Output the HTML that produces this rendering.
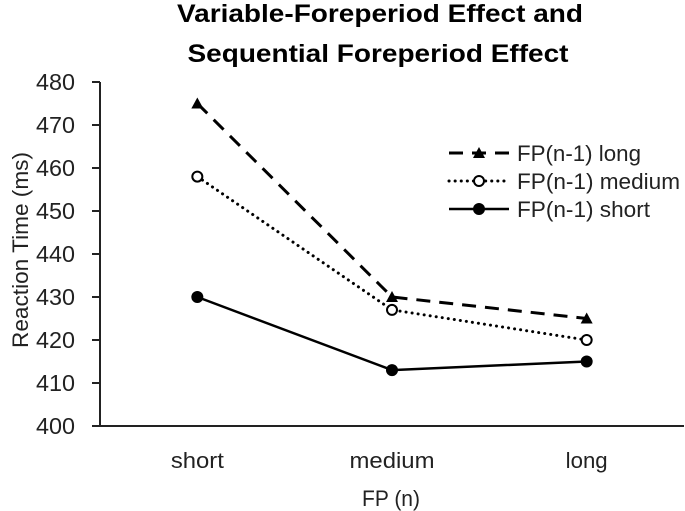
<!DOCTYPE html>
<html><head><meta charset="utf-8"><style>
html,body{margin:0;padding:0;background:#fff}
svg{display:block;font-family:"Liberation Sans",sans-serif}
</style></head><body>
<svg width="685" height="511" viewBox="0 0 685 511" id="chart">
<text x="380" y="22" text-anchor="middle" font-size="25" font-weight="bold" textLength="406" lengthAdjust="spacingAndGlyphs">Variable-Foreperiod Effect and</text>
<text x="378" y="62" text-anchor="middle" font-size="25" font-weight="bold" textLength="381" lengthAdjust="spacingAndGlyphs">Sequential Foreperiod Effect</text>
<g id="axes"></g>
<g id="series"></g>
<text x="391" y="506" text-anchor="middle" font-size="22" fill="#222" textLength="58" lengthAdjust="spacingAndGlyphs">FP (n)</text>
<text transform="translate(28,250) rotate(-90)" text-anchor="middle" font-size="22" fill="#222" textLength="196" lengthAdjust="spacingAndGlyphs">Reaction Time (ms)</text>
<g id="legend"></g>
</svg>
<script>
const categories = ["short","medium","long"];
const yTicks = [400,410,420,430,440,450,460,470,480];
const seriesNames = ["FP(n-1) long","FP(n-1) medium","FP(n-1) short"];
const longValues = [475,430,425];
const mediumValues = [458,427,420];
const shortValues = [430,413,415];

const NS="http://www.w3.org/2000/svg";
const X0=100,X1=684,Y0=426,Y1=82,YMIN=400,YMAX=480;
const band=(X1-X0)/categories.length;
const xs=i=>X0+band*(i+0.5);
const ys=v=>Y0-(v-YMIN)/(YMAX-YMIN)*(Y0-Y1);
function mk(tag,attrs,parent){const e=document.createElementNS(NS,tag);for(const k in attrs)e.setAttribute(k,attrs[k]);parent.appendChild(e);return e;}
const axes=document.getElementById('axes');
let l=mk('line',{x1:X0,y1:Y1,x2:X0,y2:Y0+1,stroke:'#222','stroke-width':2},axes);


l=mk('line',{x1:X0-8,y1:Y0,x2:X1,y2:Y0,stroke:'#222','stroke-width':2},axes);


yTicks.forEach(v=>{
  const t=mk('line',{x1:X0-8,y1:ys(v),x2:X0,y2:ys(v),stroke:'#222','stroke-width':2},axes);
  
  
  const tx=mk('text',{x:75,y:ys(v)+8,'text-anchor':'end','font-size':23,fill:'#222',textLength:39,lengthAdjust:'spacingAndGlyphs'},axes);
  tx.textContent=v;
  
  
});
const catW={short:53,medium:85,long:42};
categories.forEach((c,i)=>{
  const tx=mk('text',{x:xs(i),y:468,'text-anchor':'middle','font-size':22,fill:'#222',textLength:catW[c]||60,lengthAdjust:'spacingAndGlyphs'},axes);
  tx.textContent=c;
  
  
});
const styles=[
 {dash:'14 9',w:3,cap:'butt',marker:'tri'},
 {dash:'0.1 6',w:3,cap:'round',marker:'open'},
 {dash:'',w:2.5,cap:'butt',marker:'dot'}];
const allVals=[longValues,mediumValues,shortValues];
const sg=document.getElementById('series');
function marker(type,x,y,parent){
  let m;
  if(type==='tri') m=mk('polygon',{points:`${x},${y-6} ${x-6},${y+5} ${x+6},${y+5}`,fill:'#000'},parent);
  else if(type==='open') m=mk('circle',{cx:x,cy:y,r:5,fill:'#fff',stroke:'#000','stroke-width':2},parent);
  else m=mk('circle',{cx:x,cy:y,r:6,fill:'#000'},parent);
  return m;
}
allVals.forEach((vals,s)=>{
  const st=styles[s];
  const p=mk('polyline',{points:vals.map((v,i)=>xs(i)+','+ys(v)).join(' '),fill:'none',stroke:'#000','stroke-width':st.w,'stroke-dasharray':st.dash,'stroke-linecap':st.cap},sg);
  
  
  vals.forEach((v,i)=>{
    const m=marker(st.marker,xs(i),ys(v),sg);
    
    
  });
});
const lg=document.getElementById('legend');
const legW=[124,163,133];
seriesNames.forEach((n,s)=>{
  const st=styles[s];const y=153+28*s;
  const ln=mk('line',{x1:449,y1:y,x2:509,y2:y,stroke:'#000','stroke-width':st.w,'stroke-dasharray':st.dash,'stroke-linecap':st.cap},lg);
  
  
  const m=marker(st.marker,479,y,lg);
  
  
  const t=mk('text',{x:517,y:y+8,'font-size':22,fill:'#222',textLength:legW[s],lengthAdjust:'spacingAndGlyphs'},lg);
  t.textContent=n;
  
  
});
</script>
</body></html>
